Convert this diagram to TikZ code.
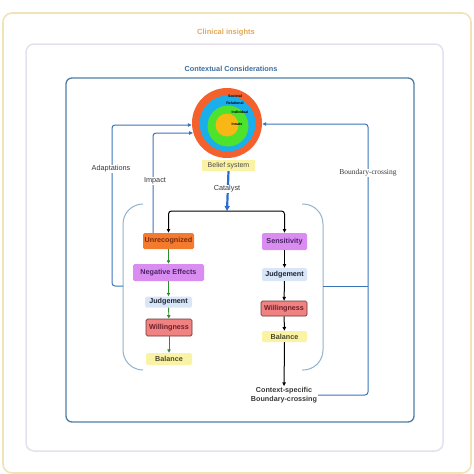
\documentclass[tikz,border=0pt]{standalone}
\usepackage{fontspec}
\setmainfont{Liberation Sans}
\newfontfamily\serfont{Liberation Serif}
\usetikzlibrary{arrows.meta}
\definecolor{outerc}{HTML}{F2E2B8}
\definecolor{midc}{HTML}{E6DFF0}
\definecolor{innerc}{HTML}{4D7CA3}
\definecolor{clinc}{HTML}{E0A85A}
\definecolor{ctxc}{HTML}{3C6E9E}
\definecolor{linkc}{HTML}{3A74B8}
\definecolor{brackc}{HTML}{8FB3CF}
\definecolor{catc}{HTML}{2A6FD0}
\definecolor{ringa}{HTML}{F4612C}
\definecolor{ringb}{HTML}{1AAEEA}
\definecolor{ringc}{HTML}{4DE22C}
\definecolor{ringd}{HTML}{F8B714}
\definecolor{orangef}{HTML}{F47A2E}
\definecolor{purplef}{HTML}{DA8DF0}
\definecolor{bluef}{HTML}{D8E6F7}
\definecolor{redf}{HTML}{F08282}
\definecolor{redd}{HTML}{6A3434}
\definecolor{yellowf}{HTML}{FAF2A4}
\definecolor{greenc}{HTML}{2E8B2E}
\begin{document}
\begin{tikzpicture}[x=1pt,y=-1pt,
  boxnode/.style={rounded corners=1.5pt, inner sep=0pt, font=\fontsize{7.2}{8}\selectfont\bfseries},
  lbl/.style={fill=white, inner sep=1pt, text=black!78, font=\fontsize{7.3}{8}\selectfont},
  linkarrow/.style={draw=linkc, line width=1pt, rounded corners=3pt, -{Triangle[length=4pt,width=3.6pt]}},
  linkline/.style={draw=linkc, line width=1pt, rounded corners=3pt},
  greenarrow/.style={draw=greenc, line width=0.9pt, -{Triangle[length=3.5pt,width=3.2pt]}},
  blackarrow/.style={draw=black, line width=1pt, -{Triangle[length=3.8pt,width=3.4pt]}},
  bracket/.style={draw=brackc, line width=1pt, rounded corners=20pt},
  ringlbl/.style={font=\fontsize{3.6}{3.8}\selectfont\bfseries, inner sep=0pt}]
\useasboundingbox (0,0) rectangle (474,474);
% frames
\draw[outerc, line width=1.6pt, rounded corners=9pt] (3,13) rectangle (471,473);
\draw[midc, line width=1.5pt, rounded corners=8pt] (26,44) rectangle (443,451);
\draw[innerc, line width=1.3pt, rounded corners=6pt] (66,78) rectangle (414,422);
\node[font=\fontsize{7.5}{8}\selectfont\bfseries, text=clinc] (clin) at (226,33) {Clinical insights};
\node[font=\fontsize{7.3}{8}\selectfont\bfseries, text=ctxc] (ctx) at (231,69) {Contextual Considerations};
% belief circle
\node[circle, fill=ringa, minimum size=70pt, inner sep=0pt] (circ) at (227,123) {};
\fill[ringb] (227.5,123.5) circle (28pt);
\fill[ringc] (228,126) circle (20.5pt);
\fill[ringd] (227,125) circle (11.5pt);
\node[ringlbl] (soc) at (235,96) {Societal};
\node[ringlbl] (rel) at (235,103.5) {Relational};
\node[ringlbl] (ind) at (240,112) {Individual};
\node[ringlbl] (inn) at (237,124) {Innate};
\node[boxnode, rounded corners=0pt, fill=yellowf, minimum width=53pt, minimum height=11pt, font=\fontsize{7}{8}\selectfont, text=black!70] (belief) at (228.5,165.5) {Belief system};
% split point
\coordinate (split) at (227,211);
\draw[catc, line width=2.2pt, -{Triangle[length=5pt,width=5pt]}] (belief.south) -- (split);
\node[lbl] (cat) at (227,189) {Catalyst};
% left column
\node[boxnode, fill=orangef, text={rgb,255:red,122;green,44;blue,16}, minimum width=51pt, minimum height=16pt] (unrec) at (168.5,241) {Unrecognized};
\node[boxnode, fill=purplef, text={rgb,255:red,75;green,35;blue,102}, minimum width=71pt, minimum height=17pt] (neg) at (168.5,272.5) {Negative Effects};
\node[boxnode, fill=bluef, text={rgb,255:red,28;green,37;blue,53}, minimum width=47pt, minimum height=11pt] (judgL) at (168.5,302) {Judgement};
\node[boxnode, fill=redf, draw=redd, line width=0.7pt, text={rgb,255:red,107;green,31;blue,42}, minimum width=46pt, minimum height=17pt] (willL) at (169,327.5) {Willingness};
\node[boxnode, fill=yellowf, text={rgb,255:red,74;green,74;blue,42}, minimum width=46pt, minimum height=12pt] (balL) at (169,359) {Balance};
% right column
\node[boxnode, fill=purplef, text={rgb,255:red,75;green,35;blue,102}, minimum width=45pt, minimum height=17pt] (sens) at (284.5,241.5) {Sensitivity};
\node[boxnode, fill=bluef, text={rgb,255:red,28;green,37;blue,53}, minimum width=45pt, minimum height=13pt] (judgR) at (284.5,274.5) {Judgement};
\node[boxnode, fill=redf, draw=redd, line width=0.7pt, text={rgb,255:red,107;green,31;blue,42}, minimum width=46pt, minimum height=15pt] (willR) at (284,308.5) {Willingness};
\node[boxnode, fill=yellowf, text={rgb,255:red,74;green,74;blue,42}, minimum width=45pt, minimum height=11pt] (balR) at (284.5,336.5) {Balance};
\node[font=\fontsize{7.2}{8.6}\selectfont\bfseries, text=black!78, align=center, inner sep=1pt] (ctxb) at (284,395) {Context-specific\\Boundary-crossing};
% black split
\draw[blackarrow, rounded corners=3pt] (split) -| (unrec.north);
\draw[blackarrow, rounded corners=3pt] (split) -| (sens.north);
% green arrows
\draw[greenarrow] (unrec) -- (neg);
\draw[greenarrow] (neg) -- (judgL);
\draw[greenarrow] (judgL) -- (willL);
\draw[greenarrow] (willL) -- (balL);
% right arrows
\draw[blackarrow] (sens) -- (judgR);
\draw[blackarrow] (judgR) -- (willR);
\draw[blackarrow] (willR) -- (balR);
\draw[blackarrow] (balR) -- (ctxb);
% brackets
\draw[bracket] (143,204) -- (123,204) -- (123,370) -- (143,370);
\draw[bracket] (302,204) -- (323,204) -- (323,370) -- (302,370);
\coordinate (lbr) at (123,286);
\coordinate (rbr) at (323,286);
% feedback links
\draw[linkarrow] (lbr) -- (112,286) -- (112,125) -- (circ.west |- 0,125);
\draw[linkarrow] (unrec.north west -| 153,0) -- (153,133) -- (193,133);
\draw[linkline] (rbr) -- (368,286);
\draw[linkarrow] (ctxb.east |- 0,395) -- (368,395) -- (368,124) -- (circ.east |- 0,124);
\node[lbl] (adapt) at (111,169) {Adaptations};
\node[lbl] (imp) at (155,181) {Impact};
\node[lbl, font=\serfont\fontsize{7.5}{8}\selectfont] (bcross) at (368,173) {Boundary-crossing};
\end{tikzpicture}
\end{document}
